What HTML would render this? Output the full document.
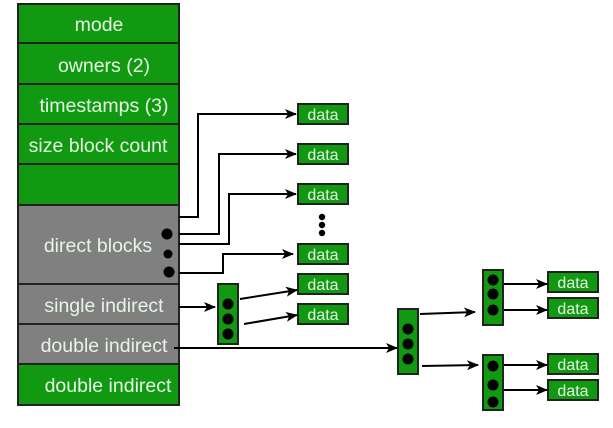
<!DOCTYPE html>
<html><head><style>
html,body{margin:0;padding:0;background:#fff;width:613px;height:428px;overflow:hidden}
svg text{font-family:"Liberation Sans",Arial,sans-serif;fill:#e6f5e6}
</style></head><body>
<svg width="613" height="428" viewBox="0 0 613 428" xmlns="http://www.w3.org/2000/svg">
<defs><marker id="a" markerWidth="12" markerHeight="10" refX="11" refY="5" orient="auto" markerUnits="userSpaceOnUse"><path d="M0,0 L12,5 L0,10 L3,5 Z" fill="#000"/></marker></defs>
<g stroke="#222" stroke-width="2">
<rect x="18" y="4" width="161" height="39" fill="#119a11"/>
<rect x="18" y="43" width="161" height="41" fill="#119a11"/>
<rect x="18" y="84" width="161" height="40" fill="#119a11"/>
<rect x="18" y="124" width="161" height="40" fill="#119a11"/>
<rect x="18" y="164" width="161" height="41" fill="#119a11"/>
<rect x="18" y="205" width="161" height="79" fill="#808080"/>
<rect x="18" y="284" width="161" height="40" fill="#808080"/>
<rect x="18" y="324" width="161" height="40" fill="#808080"/>
<rect x="18" y="364" width="161" height="41" fill="#119a11"/>
</g>
<g font-size="19.5" text-anchor="middle">
<text x="99" y="31">mode</text>
<text x="104" y="72">owners (2)</text>
<text x="104" y="112">timestamps (3)</text>
<text x="98" y="152">size block count</text>
<text x="98" y="252">direct blocks</text>
<text x="104" y="312">single indirect</text>
<text x="104" y="352">double indirect</text>
<text x="108" y="392">double indirect</text>
</g>
<g fill="#000">
<circle cx="167" cy="234" r="5.5"/><circle cx="168" cy="254" r="4.5"/><circle cx="169" cy="272" r="5.5"/>
<circle cx="322" cy="217" r="3.2"/><circle cx="322" cy="225" r="3.2"/><circle cx="322" cy="233" r="3.2"/>
</g>
<g fill="none" stroke="#000" stroke-width="2">
<path d="M179,217 H198 V114 H296" marker-end="url(#a)"/>
<path d="M179,234 H219 V154 H296" marker-end="url(#a)"/>
<path d="M179,244 H229 V194 H296" marker-end="url(#a)"/>
<path d="M179,273 H223 V254 H293" marker-end="url(#a)"/>
<path d="M179,307 H215" marker-end="url(#a)"/>
<path d="M240,299 L297,290" marker-end="url(#a)"/>
<path d="M244,324 L297,315" marker-end="url(#a)"/>
<path d="M174,348 H397" marker-end="url(#a)"/>
<path d="M420,314 L475,312" marker-end="url(#a)"/>
<path d="M422,366 L478,365" marker-end="url(#a)"/>
<path d="M503,284 H547" marker-end="url(#a)"/>
<path d="M503,310 H547" marker-end="url(#a)"/>
<path d="M503,365 H547" marker-end="url(#a)"/>
<path d="M503,390 H547" marker-end="url(#a)"/>
</g>
<g stroke="#222" stroke-width="2" fill="#119a11">
<rect x="218" y="284" width="20" height="60"/>
<rect x="398" y="309" width="20" height="65"/>
<rect x="483" y="270" width="20" height="55"/>
<rect x="483" y="355" width="20" height="55"/>
<rect x="298" y="104" width="50" height="20"/>
<rect x="298" y="144" width="50" height="20"/>
<rect x="298" y="184" width="50" height="20"/>
<rect x="298" y="244" width="50" height="20"/>
<rect x="298" y="274" width="50" height="20"/>
<rect x="298" y="304" width="50" height="20"/>
<rect x="548" y="272" width="50" height="20"/>
<rect x="548" y="298" width="50" height="20"/>
<rect x="548" y="354" width="50" height="20"/>
<rect x="548" y="380" width="50" height="20"/>
</g>
<g fill="#000">
<circle cx="228" cy="304" r="5.5"/><circle cx="228" cy="319" r="5.5"/><circle cx="228" cy="334" r="5.5"/>
<circle cx="408" cy="329" r="5.5"/><circle cx="408" cy="344" r="5.5"/><circle cx="408" cy="359" r="5.5"/>
<circle cx="493" cy="280" r="5.5"/><circle cx="493" cy="294" r="5.5"/><circle cx="493" cy="310" r="5.5"/>
<circle cx="493" cy="366" r="5.5"/><circle cx="493" cy="385" r="5.5"/><circle cx="493" cy="402" r="5.5"/>
</g>
<g font-size="16" text-anchor="middle">
<text x="323" y="120">data</text><text x="323" y="160">data</text><text x="323" y="200">data</text>
<text x="323" y="260">data</text><text x="323" y="290">data</text><text x="323" y="320">data</text>
<text x="573" y="288">data</text><text x="573" y="314">data</text><text x="573" y="370">data</text><text x="573" y="396">data</text>
</g>
</svg>
</body></html>
